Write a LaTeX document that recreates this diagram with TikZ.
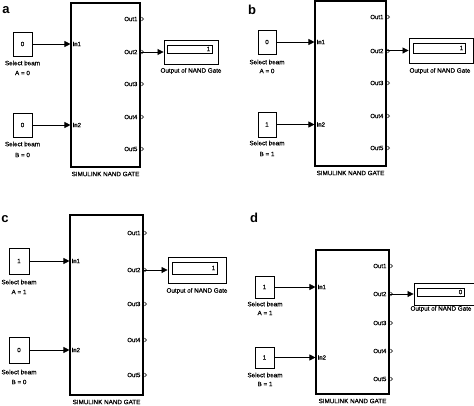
\documentclass[tikz,border=0pt]{standalone}
\usepackage{fontspec}
\setmainfont{Liberation Sans}
\newfontfamily\simfont{Liberation Sans}[FakeBold=0.5]
\usetikzlibrary{arrows.meta,calc}
\tikzset{
  blk/.style={draw,line width=1.1pt,inner sep=0pt},
  srcbox/.style={draw,line width=0.9pt,inner sep=0pt,font=\simfont\fontsize{6.3}{7}\selectfont},
  dispo/.style={draw,line width=0.9pt,inner sep=0pt},
  dispi/.style={draw,line width=0.9pt,inner sep=0pt},
  lbl/.style={inner sep=0pt,font=\simfont\fontsize{6.3}{7}\selectfont},
  portl/.style={inner sep=0pt,font=\simfont\fontsize{6}{7}\selectfont},
  arr/.style={line width=0.8pt,-{Triangle[length=6pt,width=6pt]}},
  port/.style={line width=0.6pt},
  plbl/.style={inner sep=0pt,font=\fontsize{13}{15}\selectfont\bfseries}
}
\begin{document}
\begin{tikzpicture}[x=1pt,y=-1pt]
\useasboundingbox (0,0) rectangle (474,405);
\clip (0,0) rectangle (474,405);
\fill[white] (0,0) rectangle (474,405);

%%%%%%%%%%%%%%%% panel a
\node[plbl] (la) at (6,10) {a};
\node[blk,minimum width=69pt,minimum height=164pt] (blkA) at (105.5,85) {};
\node[lbl] (tA) at (105.5,174) {SIMULINK NAND GATE};
\node[srcbox,minimum width=19pt,minimum height=24pt] (sAa) at (22.5,44) {0};
\node[srcbox,minimum width=19pt,minimum height=24pt] (sBa) at (22.5,125) {0};
\node[lbl] (sAa1) at (22.5,63) {Select beam};
\node[lbl] (sAa2) at (22.5,73) {A = 0};
\node[lbl] (sBa1) at (22.5,144) {Select beam};
\node[lbl] (sBa2) at (22.5,155) {B = 0};
\node[portl,anchor=west] (ia1) at ($(blkA.west|-sAa)+(2,0)$) {In1};
\node[portl,anchor=west] (ia2) at ($(blkA.west|-sBa)+(2,0)$) {In2};
\draw[arr] (sAa.east) -- (sAa.east -| blkA.west);
\draw[arr] (sBa.east) -- (sBa.east -| blkA.west);
\foreach \y/\n in {19/1,52/2,84/3,117/4,149/5}{
  \node[portl,anchor=east] (oa\n) at ($(blkA.east |- 0,\y)+(-3,0)$) {Out\n};
  \draw[port] ($(blkA.east |- 0,\y)+(1,1.8)$) -- ($(blkA.east |- 0,\y)+(3,0)$) -- ($(blkA.east |- 0,\y)+(1,-1.8)$);
}
\node[dispo,minimum width=54pt,minimum height=24pt] (dOa) at (191,52) {};
\node[dispi,minimum width=45pt,minimum height=8pt] (dIa) at (189.5,49) {};
\node[lbl,anchor=east] (vA) at ($(dIa.east)+(-2,0)$) {1};
\node[lbl] (oLa) at (191,71) {Output of NAND Gate};
\draw[arr] (blkA.east |- dOa) -- (dOa.west);

%%%%%%%%%%%%%%%% panel b
\node[plbl] (lb) at (252,10) {b};
\node[blk,minimum width=71pt,minimum height=165pt] (blkB) at (350.5,83.5) {};
\node[lbl] (tB) at (350.5,173) {SIMULINK NAND GATE};
\node[srcbox,minimum width=18pt,minimum height=24pt] (sAb) at (267,42) {0};
\node[srcbox,minimum width=18pt,minimum height=25pt] (sBb) at (267,124.5) {1};
\node[lbl] (sAb1) at (267,62) {Select beam};
\node[lbl] (sAb2) at (267,71) {A = 0};
\node[lbl] (sBb1) at (267,143) {Select beam};
\node[lbl] (sBb2) at (267,154) {B = 1};
\node[portl,anchor=west] (ib1) at ($(blkB.west|-sAb)+(2,0)$) {In1};
\node[portl,anchor=west] (ib2) at ($(blkB.west|-sBb)+(2,0)$) {In2};
\draw[arr] (sAb.east) -- (sAb.east -| blkB.west);
\draw[arr] (sBb.east) -- (sBb.east -| blkB.west);
\foreach \y/\n in {17/1,51/2,83/3,116/4,148/5}{
  \node[portl,anchor=east] (ob\n) at ($(blkB.east |- 0,\y)+(-3,0)$) {Out\n};
  \draw[port] ($(blkB.east |- 0,\y)+(1,1.8)$) -- ($(blkB.east |- 0,\y)+(3,0)$) -- ($(blkB.east |- 0,\y)+(1,-1.8)$);
}
\node[dispo,minimum width=64pt,minimum height=25pt] (dOb) at (441,50.5) {};
\node[dispi,minimum width=52pt,minimum height=10pt] (dIb) at (439,48) {};
\node[lbl,anchor=east] (vB) at ($(dIb.east)+(-2,0)$) {1};
\node[lbl] (oLb) at (440,71) {Output of NAND Gate};
\draw[arr] (blkB.east |- dOb) -- (dOb.west);

%%%%%%%%%%%%%%%% panel c
\node[plbl] (lc) at (5,219) {c};
\node[blk,minimum width=73pt,minimum height=180pt] (blkC) at (106.5,305) {};
\node[lbl] (tC) at (106.5,402) {SIMULINK NAND GATE};
\node[srcbox,minimum width=20pt,minimum height=26pt] (sAc) at (19,261) {1};
\node[srcbox,minimum width=20pt,minimum height=26pt] (sBc) at (19,350) {0};
\node[lbl] (sAc1) at (19,282) {Select beam};
\node[lbl] (sAc2) at (19,292) {A = 1};
\node[lbl] (sBc1) at (19,372) {Select beam};
\node[lbl] (sBc2) at (19,382) {B = 0};
\node[portl,anchor=west] (ic1) at ($(blkC.west|-sAc)+(2,0)$) {In1};
\node[portl,anchor=west] (ic2) at ($(blkC.west|-sBc)+(2,0)$) {In2};
\draw[arr] (sAc.east) -- (sAc.east -| blkC.west);
\draw[arr] (sBc.east) -- (sBc.east -| blkC.west);
\foreach \y/\n in {233/1,270/2,304/3,340/4,375/5}{
  \node[portl,anchor=east] (oc\n) at ($(blkC.east |- 0,\y)+(-3,0)$) {Out\n};
  \draw[port] ($(blkC.east |- 0,\y)+(1,1.8)$) -- ($(blkC.east |- 0,\y)+(3,0)$) -- ($(blkC.east |- 0,\y)+(1,-1.8)$);
}
\node[dispo,minimum width=58pt,minimum height=26pt] (dOc) at (197,270) {};
\node[dispi,minimum width=45pt,minimum height=12pt] (dIc) at (194.5,268) {};
\node[lbl,anchor=east] (vC) at ($(dIc.east)+(-2,0)$) {1};
\node[lbl] (oLc) at (197,291) {Output of NAND Gate};
\draw[arr] (blkC.east |- dOc) -- (dOc.west);

%%%%%%%%%%%%%%%% panel d
\node[plbl] (ld) at (254,218) {d};
\node[blk,minimum width=73pt,minimum height=144pt] (blkD) at (352.5,322) {};
\node[lbl] (tD) at (352.5,401) {SIMULINK NAND GATE};
\node[srcbox,minimum width=19pt,minimum height=22pt] (sAd) at (264.5,287) {1};
\node[srcbox,minimum width=19pt,minimum height=21pt] (sBd) at (264.5,357.5) {1};
\node[lbl] (sAd1) at (265,304) {Select beam};
\node[lbl] (sAd2) at (265,313) {A = 1};
\node[lbl] (sBd1) at (265,375) {Select beam};
\node[lbl] (sBd2) at (265,384) {B = 1};
\node[portl,anchor=west] (id1) at ($(blkD.west|-sAd)+(2,0)$) {In1};
\node[portl,anchor=west] (id2) at ($(blkD.west|-sBd)+(2,0)$) {In2};
\draw[arr] (sAd.east) -- (sAd.east -| blkD.west);
\draw[arr] (sBd.east) -- (sBd.east -| blkD.west);
\foreach \y/\n in {266/1,294/2,323/3,351/4,379/5}{
  \node[portl,anchor=east] (od\n) at ($(blkD.east |- 0,\y)+(-3,0)$) {Out\n};
  \draw[port] ($(blkD.east |- 0,\y)+(1,1.8)$) -- ($(blkD.east |- 0,\y)+(3,0)$) -- ($(blkD.east |- 0,\y)+(1,-1.8)$);
}
\node[dispo,minimum width=61pt,minimum height=22pt] (dOd) at (444.5,294) {};
\node[dispi,minimum width=47pt,minimum height=8pt] (dId) at (440.5,292) {};
\node[lbl,anchor=east] (vD) at ($(dId.east)+(-2,0)$) {0};
\node[lbl] (oLd) at (441,309) {Output of NAND Gate};
\draw[arr] (blkD.east |- dOd) -- (dOd.west);
\end{tikzpicture}
\end{document}
